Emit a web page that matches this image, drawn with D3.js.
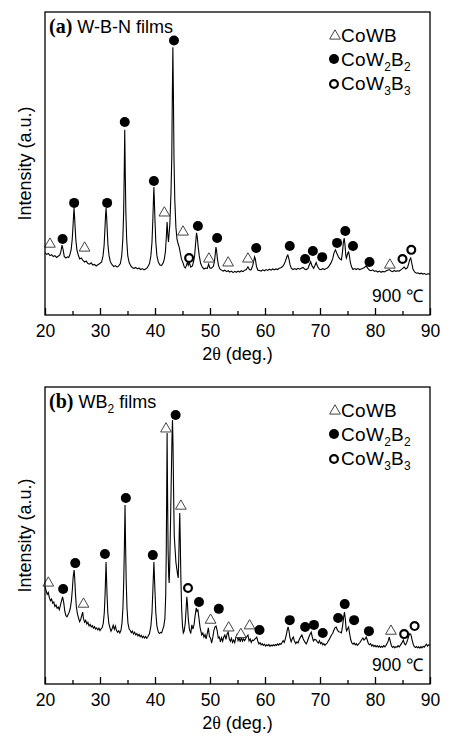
<!DOCTYPE html>
<html>
<head>
<meta charset="utf-8">
<script src="https://cdn.jsdelivr.net/npm/d3@7"></script>
<style>
  body { margin: 0; background: #fff; }
  svg { display: block; }
  text { font-family: "Liberation Sans", Arial, sans-serif; fill: #000; }
</style>
</head>
<body>
<svg id="chart" width="458" height="740"></svg>
<script>
// x axis ticks (2 theta, deg.)
const xTicks = [20, 30, 40, 50, 60, 70, 80, 90]
const xMinorTicks = [25, 35, 45, 55, 65, 75, 85]

// legend phases
const phaseLabels = [
  [["CoWB", ""]],
  [["CoW", ""], ["2", "sub"], ["B", ""], ["2", "sub"]],
  [["CoW", ""], ["3", "sub"], ["B", ""], ["3", "sub"]]
]

// (a) W-B-N films, 900 C : [2theta, intensity a.u.]
const traceA = [
  [20.0,20.5],[20.3,20.0],[20.6,20.3],[20.9,19.6],[21.2,19.9],[21.5,19.3],[21.8,19.6],[22.1,19.0],[22.4,19.4],[22.7,19.8],
  [22.9,21.0],[23.1,23.1],[23.3,21.5],[23.5,19.3],[23.8,18.8],[24.1,19.2],[24.3,19.0],[24.5,19.8],[24.75,21.5],[24.95,25],
  [25.1,29.5],[25.2,33],[25.28,35.3],[25.36,33],[25.46,29.5],[25.6,25],[25.8,21.5],[26.05,19.8],[26.3,18.5],[26.6,18.8],
  [26.9,18.0],[27.2,17.5],[27.5,17.8],[27.8,17.0],[28.1,16.8],[28.4,17.2],[28.7,16.5],[29.0,16.7],[29.3,16.2],[29.6,16.6],
  [29.9,16.9],[30.3,17.5],[30.55,19.5],[30.75,23],[30.9,28.5],[31.0,32.5],[31.1,35.3],[31.2,32.5],[31.3,28.5],[31.45,23],
  [31.65,19.5],[31.9,17.5],[32.2,16.6],[32.5,16.0],[32.8,16.3],[33.1,15.8],[33.4,16.2],[33.7,17.0],[33.95,19.5],[34.15,25],
  [34.3,34],[34.4,46],[34.5,61.1],[34.6,46],[34.7,34],[34.85,25],[35.05,19.5],[35.3,17.3],[35.6,16.2],[35.9,15.6],
  [36.2,15.4],[36.5,15.7],[36.8,15.2],[37.1,15.5],[37.4,15.0],[37.7,15.3],[38.0,14.9],[38.3,15.2],[38.6,15.6],[39.0,17.0],
  [39.25,19.5],[39.45,24],[39.6,31],[39.72,38],[39.8,42.2],[39.88,38],[40.0,31],[40.15,24],[40.35,19.5],[40.6,17.5],
  [40.9,16.5],[41.2,16.4],[41.5,17.2],[41.7,18.5],[41.9,21],[42.05,25.5],[42.2,30.7],[42.35,26],[42.45,24.1],[42.7,30],
  [42.9,40],[43.05,52],[43.15,72],[43.25,88.4],[43.35,72],[43.45,52],[43.6,38],[43.8,29],[44.0,25],[44.2,23.5],
  [44.4,22.4],[44.6,20.5],[44.8,18.5],[45.1,17.2],[45.3,16.0],[45.5,15.5],[45.7,16.2],[45.9,17.5],[46.05,16.4],[46.25,17.3],
  [46.5,15.8],[46.8,16.2],[47.0,17.5],[47.2,19.5],[47.38,23.5],[47.55,27.1],[47.7,25.5],[47.85,22.5],[48.05,19.5],[48.3,17],
  [48.6,15.8],[48.9,15.2],[49.2,15.5],[49.5,15.3],[49.75,16.8],[49.95,15.6],[50.2,15.4],[50.4,15.7],[50.6,16.0],[50.8,17.5],
  [50.95,20],[51.08,22.4],[51.2,21.2],[51.35,18.5],[51.55,16.3],[51.8,15.2],[52.1,14.8],[52.4,14.5],[52.7,14.8],[53.0,14.3],
  [53.3,14.6],[53.6,14.2],[53.9,14.5],[54.2,14.0],[54.5,14.4],[54.8,14.1],[55.1,14.5],[55.4,14.2],[55.7,14.6],[56.0,14.3],
  [56.3,14.8],[56.6,15.0],[56.9,15.9],[57.1,15.2],[57.3,14.8],[57.5,15.0],[57.75,16.2],[57.95,17.8],[58.1,19.2],[58.25,18.4],
  [58.45,16.0],[58.7,14.8],[59.0,14.7],[59.3,14.5],[59.6,14.9],[59.9,14.6],[60.2,15.0],[60.5,14.7],[60.8,15.1],[61.1,14.8],
  [61.4,15.2],[61.7,14.9],[62.0,15.2],[62.3,15.0],[62.6,15.4],[62.9,15.6],[63.2,16.0],[63.5,16.8],[63.75,18.0],[64.0,19.4],
  [64.15,19.8],[64.35,18.5],[64.55,16.6],[64.8,15.4],[65.1,15.0],[65.4,15.3],[65.7,15.0],[66.0,15.4],[66.3,15.1],[66.6,15.4],
  [66.9,15.7],[67.2,15.2],[67.5,15.0],[67.8,15.3],[68.05,16.5],[68.3,17.6],[68.55,16.2],[68.85,15.4],[69.1,16.4],[69.3,17.3],
  [69.55,16.0],[69.9,15.1],[70.2,15.0],[70.5,15.3],[70.8,15.0],[71.1,15.3],[71.4,15.6],[71.7,16.3],[72.0,17.2],[72.3,18.5],
  [72.55,20.5],[72.8,21.5],[73.1,20.2],[73.4,19.0],[73.7,18.4],[73.9,18.2],[74.1,21],[74.25,24],[74.4,25.4],[74.55,23],
  [74.7,19.5],[74.8,18.8],[74.95,19.8],[75.1,20.6],[75.2,20.8],[75.35,19.5],[75.5,17.5],[75.75,15.8],[76.0,15.0],[76.3,15.3],
  [76.6,15.0],[76.9,15.3],[77.2,15.0],[77.5,15.2],[77.8,15.4],[78.1,15.7],[78.4,16.2],[78.7,15.4],[79.0,14.8],[79.3,14.6],
  [79.6,14.9],[79.9,14.4],[80.2,14.6],[80.5,14.2],[80.8,14.5],[81.1,14.1],[81.4,14.4],[81.7,14.2],[82.0,14.5],[82.3,14.8],
  [82.6,15.0],[82.9,14.5],[83.2,14.3],[83.5,14.7],[83.8,14.4],[84.1,14.6],[84.4,14.5],[84.7,14.9],[85.0,15.3],[85.3,15.8],
  [85.6,15.2],[85.9,15.6],[86.1,16.8],[86.3,18.2],[86.5,18.8],[86.7,17.0],[86.9,15.2],[87.2,14.2],[87.5,13.8],[87.8,13.9],
  [88.1,13.6],[88.4,13.8],[88.7,13.5],[89.0,13.7],[89.3,13.4],[89.6,13.6],[90.0,13.5]
]
const cowbA = [[20.9,23.4],[27.2,22.1],[41.7,33.7],[45.1,27.4],[49.8,18.5],[53.3,17.2],[56.9,18.5],[82.7,16.5]]
const cow2b2A = [[23.2,25.1],[25.3,37.0],[31.3,37.0],[34.5,63.7],[39.8,44.2],[43.45,90.6],[47.8,29.4],[51.3,25.4],
  [58.4,22.1],[64.5,22.8],[67.3,18.5],[68.7,21.1],[70.4,19.1],[73.1,23.8],[74.6,27.7],[76.0,22.8],[79.0,17.5]]
const cow3b3A = [[46.2,18.8],[85.0,18.5],[86.6,21.5]]

// (b) WB2 films, 900 C : [2theta, intensity a.u.]
const traceB = [
  [20.0,32.7],[20.2,31.5],[20.4,30.2],[20.6,30.8],[20.8,29.0],[21.0,28.0],[21.2,28.6],[21.4,27.2],[21.6,27.6],[21.8,26.1],
  [22.0,26.6],[22.2,25.5],[22.4,25.9],[22.6,25.0],[22.8,26.5],[23.0,28.0],[23.2,29.3],[23.4,27.5],[23.6,24.5],[23.8,23.0],
  [24.0,22.6],[24.2,23.4],[24.4,24.2],[24.6,25.5],[24.8,28],[24.98,32],[25.12,36],[25.3,38.4],[25.42,35],[25.55,30],
  [25.7,26],[25.9,23.5],[26.1,22.2],[26.3,21.0],[26.5,21.8],[26.7,23.2],[26.85,24.2],[27.0,22.0],[27.2,20.8],[27.4,21.4],
  [27.6,20.2],[27.8,20.8],[28.0,19.6],[28.2,20.1],[28.4,19.2],[28.6,19.7],[28.8,18.8],[29.0,19.3],[29.2,18.5],[29.4,18.9],
  [29.6,18.2],[29.8,18.8],[30.0,18.0],[30.2,18.6],[30.4,19.0],[30.6,20.5],[30.78,24],[30.92,30],[31.02,36],[31.1,41.1],
  [31.18,36],[31.28,30],[31.42,24],[31.6,20.5],[31.8,19.0],[32.0,17.8],[32.2,18.6],[32.4,19.8],[32.6,18.4],[32.8,19.5],
  [33.0,18.0],[33.2,17.4],[33.4,17.9],[33.6,17.2],[33.8,18.0],[34.0,20.5],[34.18,26],[34.32,35],[34.44,47],[34.55,60.3],
  [34.65,47],[34.76,35],[34.9,26],[35.08,20.5],[35.3,18.5],[35.5,18.0],[35.7,17.3],[35.9,17.8],[36.1,16.8],[36.3,17.4],
  [36.5,16.5],[36.7,17.0],[36.9,16.2],[37.1,16.7],[37.3,15.9],[37.5,16.4],[37.7,15.6],[37.9,16.1],[38.1,15.5],[38.3,16.0],
  [38.5,15.4],[38.7,15.9],[39.0,17.0],[39.25,19.5],[39.45,24],[39.6,31],[39.72,37],[39.8,41.1],[39.88,37],[40.0,31],
  [40.15,24],[40.35,19.5],[40.6,17.5],[40.8,17.0],[41.0,17.4],[41.2,17.2],[41.4,18.3],[41.6,19.5],[41.8,22],[41.95,30],
  [42.05,45],[42.13,65],[42.2,84.5],[42.28,65],[42.38,45],[42.5,36],[42.58,34],[42.68,40],[42.8,52],[42.95,68],
  [43.08,82],[43.18,88.9],[43.28,80],[43.4,62],[43.5,50],[43.6,46.8],[43.7,44],[43.8,41],[43.95,39],[44.1,37],
  [44.22,35.7],[44.32,42],[44.42,52],[44.5,57.6],[44.58,50],[44.7,36],[44.85,25],[45.0,19.5],[45.15,17.2],[45.3,17.8],
  [45.5,20.5],[45.65,25],[45.78,29.4],[45.9,27],[46.05,22],[46.25,18.5],[46.5,17.0],[46.7,19.9],[46.9,18.5],[47.1,20],
  [47.3,23],[47.5,25.6],[47.65,24.5],[47.8,24.9],[48.0,22],[48.2,19],[48.5,16.5],[48.7,17.2],[48.9,15.8],[49.1,16.6],
  [49.3,15.2],[49.5,17.0],[49.7,18.9],[49.9,16.0],[50.1,15.5],[50.3,13.8],[50.5,15.6],[50.7,18],[50.9,19.2],[51.1,19.5],
  [51.3,18],[51.5,15.5],[51.7,15.8],[51.9,14.2],[52.1,15.6],[52.3,14.4],[52.5,15.8],[52.7,16.5],[52.9,15.0],[53.1,16.8],
  [53.3,17.5],[53.5,15.2],[53.7,14.4],[53.9,15.4],[54.1,14.0],[54.3,14.8],[54.5,13.9],[54.7,15.6],[54.9,16.6],[55.1,14.6],
  [55.3,15.5],[55.5,14.2],[55.7,15.8],[55.9,14.4],[56.1,15.2],[56.3,14.6],[56.5,15.3],[56.7,16.0],[56.9,16.5],[57.1,14.5],
  [57.3,15.2],[57.5,14.0],[57.7,14.8],[57.9,14.6],[58.1,15.0],[58.3,15.4],[58.5,15.8],[58.7,14.4],[58.9,13.5],[59.1,13.9],
  [59.3,13.2],[59.5,13.6],[59.7,13.0],[59.9,13.4],[60.1,12.8],[60.3,13.2],[60.5,12.9],[60.7,13.3],[60.9,12.7],[61.1,13.1],
  [61.3,12.8],[61.5,13.2],[61.7,12.9],[61.9,13.3],[62.1,13.0],[62.3,13.5],[62.5,13.1],[62.7,13.6],[62.9,13.3],[63.1,14.0],
  [63.3,14.6],[63.5,14.0],[63.7,15.2],[63.9,16.8],[64.05,18.2],[64.2,19.2],[64.35,18.0],[64.55,15.5],[64.75,14.2],[64.95,15.2],
  [65.15,15.8],[65.35,14.5],[65.6,13.6],[65.8,14.2],[66.0,13.8],[66.2,14.8],[66.45,15.8],[66.7,16.5],[66.9,15.4],[67.1,14.6],
  [67.3,14.0],[67.5,13.5],[67.7,14.3],[67.9,15.5],[68.15,16.6],[68.4,17.5],[68.6,15.8],[68.8,14.5],[69.0,15.0],[69.3,14.8],
  [69.5,14.2],[69.7,13.8],[69.9,14.6],[70.1,13.6],[70.3,14.0],[70.5,13.2],[70.7,13.6],[70.9,13.0],[71.1,13.4],[71.3,13.8],
  [71.5,14.5],[71.7,15.0],[71.9,15.8],[72.1,16.5],[72.3,17.0],[72.5,18.0],[72.75,19.0],[72.95,19.2],[73.15,18.2],[73.4,17.6],
  [73.65,17.5],[73.9,17.2],[74.1,19.5],[74.3,22.5],[74.45,24.2],[74.6,22],[74.75,18.5],[74.85,17.9],[75.0,18.6],[75.2,19.2],
  [75.4,16.8],[75.6,14.8],[75.8,13.8],[76.0,13.4],[76.2,13.8],[76.4,13.2],[76.6,13.6],[76.8,13.0],[77.0,13.4],[77.2,13.8],
  [77.4,14.4],[77.6,15.0],[77.8,15.5],[78.0,14.8],[78.2,15.2],[78.4,15.8],[78.6,14.8],[78.8,13.6],[79.0,13.2],[79.2,13.6],
  [79.4,12.8],[79.6,13.2],[79.8,12.6],[80.0,13.0],[80.2,12.5],[80.4,12.9],[80.6,12.4],[80.8,12.8],[81.0,12.3],[81.2,12.7],
  [81.4,12.4],[81.6,12.9],[81.8,12.5],[82.0,13.0],[82.2,13.6],[82.4,14.5],[82.6,15.8],[82.8,14.2],[83.0,12.8],[83.2,12.3],
  [83.4,12.7],[83.6,12.2],[83.8,12.6],[84.0,12.4],[84.2,12.9],[84.4,12.5],[84.6,13.0],[84.8,13.6],[85.0,14.2],[85.15,14.8],
  [85.35,13.6],[85.55,13.2],[85.75,13.9],[85.95,15.0],[86.15,16.2],[86.35,17.0],[86.55,16.5],[86.75,14.8],[86.95,13.4],[87.15,12.6],
  [87.35,12.3],[87.55,12.6],[87.75,12.2],[87.95,12.5],[88.15,12.1],[88.35,12.6],[88.55,12.2],[88.75,12.7],[88.95,12.4],[89.15,12.9],
  [89.35,13.4],[89.55,12.8],[89.75,13.2],[90.0,13.1]
]
const cowbB = [[20.6,34.0],[27.0,26.9],[42.0,85.9],[44.7,59.9],[50.1,21.5],[53.4,18.9],[55.6,16.7],[57.2,19.6],[82.9,17.8]]
const cow2b2B = [[23.3,32.0],[25.5,40.7],[30.9,43.8],[34.7,62.6],[39.6,43.4],[43.75,90.6],[48.0,27.6],[51.6,25.3],
  [59.0,18.2],[64.5,21.5],[67.3,19.2],[68.9,19.9],[70.5,17.2],[73.3,22.2],[74.5,26.9],[76.2,21.5],[78.9,17.8]]
const cow3b3B = [[46.0,32.3],[85.3,16.8],[87.2,19.5]]

const panels = [
  {label: "(a)", title: [["W-B-N films", ""]], trace: traceA, cowb: cowbA, cow2b2: cow2b2A, cow3b3: cow3b3A, top: 12, bottom: 315},
  {label: "(b)", title: [["WB", ""], ["2", "sub"], [" films", ""]], trace: traceB, cowb: cowbB, cow2b2: cow2b2B, cow3b3: cow3b3B, top: 387, bottom: 684}
]

const svg = d3.select("#chart")
const left = 45, right = 430
const x = d3.scaleLinear().domain([20, 90]).range([left, right])

const triangle = d3.symbol().type(d3.symbolTriangle).size(50)

// writes plain/subscript pieces into a text element
function richText(sel, parts, subSize){
  parts.forEach(([str, kind], i) => {
    const t = sel.append("tspan").text(str)
    if(kind == "sub"){
      t.attr("font-size", subSize).attr("dy", 5)
    }else if(i > 0 && parts[i-1][1] == "sub"){
      t.attr("dy", -5)
    }
  })
}

function drawTriangles(g, data, xf, yf){
  g.selectAll("path.cowb")
    .data(data)
    .join("path")
    .attr("class", "cowb")
    .attr("d", triangle)
    .attr("transform", d => `translate(${xf(d)},${yf(d)})`)
    .attr("fill", "#fff")
    .attr("stroke", "#444")
    .attr("stroke-width", 1)
}

function drawDots(g, data, xf, yf){
  g.selectAll("circle.cow2b2")
    .data(data)
    .join("circle")
    .attr("class", "cow2b2")
    .attr("cx", xf).attr("cy", yf)
    .attr("r", 5)
    .attr("fill", "#000")
}

function drawRings(g, data, xf, yf){
  g.selectAll("circle.cow3b3")
    .data(data)
    .join("circle")
    .attr("class", "cow3b3")
    .attr("cx", xf).attr("cy", yf)
    .attr("r", 3.9)
    .attr("fill", "#fff")
    .attr("stroke", "#000")
    .attr("stroke-width", 2.2)
}

function drawPanel(p){
  const g = svg.append("g")
  const y = d3.scaleLinear().domain([0, 100]).range([p.bottom, p.top])

  // XRD trace
  g.append("path")
    .datum(p.trace)
    .attr("d", d3.line().x(d => x(d[0])).y(d => y(d[1])))
    .attr("fill", "none")
    .attr("stroke", "#000")
    .attr("stroke-width", 1.1)

  // phase markers
  const mx = d => x(d[0]), my = d => y(d[1])
  drawTriangles(g, p.cowb, mx, my)
  drawDots(g, p.cow2b2, mx, my)
  drawRings(g, p.cow3b3, mx, my)

  // bottom axis, ticks pointing inward
  const axis = g.append("g")
    .attr("transform", `translate(0,${p.bottom})`)
    .call(d3.axisBottom(x).tickValues(xTicks).tickSize(-7).tickPadding(10))
  axis.select(".domain").remove()
  axis.selectAll("line").attr("stroke", "#000").attr("stroke-width", 1.3)
  axis.selectAll("text").attr("font-size", 17.5).attr("font-family", "Liberation Sans, Arial, sans-serif").attr("fill", "#000")

  const minor = g.append("g")
    .attr("transform", `translate(0,${p.bottom})`)
    .call(d3.axisBottom(x).tickValues(xMinorTicks).tickSize(-4).tickFormat(""))
  minor.select(".domain").remove()
  minor.selectAll("line").attr("stroke", "#000").attr("stroke-width", 1.3)

  // frame
  g.append("rect")
    .attr("x", left).attr("y", p.top)
    .attr("width", right - left).attr("height", p.bottom - p.top)
    .attr("fill", "none")
    .attr("stroke", "#000")
    .attr("stroke-width", 1.3)

  // panel title
  const title = g.append("text")
    .attr("x", left + 4).attr("y", p.top + 21)
    .attr("font-size", 18)
  title.append("tspan")
    .text(p.label)
    .attr("font-family", "Liberation Serif, Times New Roman, serif")
    .attr("font-weight", "bold")
    .attr("font-size", 20)
  title.append("tspan").text(" ")
  richText(title, p.title, 12)

  // legend
  const legX = 341
  const rows = [30, 54, 78]
  const legend = g.append("g")
  drawTriangles(legend, [rows[0]], () => 335, d => p.top + d - 6)
  drawDots(legend, [rows[1]], () => 334, d => p.top + d - 7)
  drawRings(legend, [rows[2]], () => 334, d => p.top + d - 6)
  phaseLabels.forEach((parts, i) => {
    const t = legend.append("text")
      .attr("x", legX).attr("y", p.top + rows[i])
      .attr("font-size", 19)
      .attr("letter-spacing", 0.3)
    richText(t, parts, 12)
  })

  // temperature
  g.append("text")
    .attr("x", right - 7).attr("y", p.bottom - 13)
    .attr("text-anchor", "end")
    .attr("font-size", 17.5)
    .text("900 \u2103")

  // axis titles
  g.append("text")
    .attr("transform", `translate(31,${(p.top + p.bottom) / 2}) rotate(-90)`)
    .attr("text-anchor", "middle")
    .attr("font-size", 18)
    .text("Intensity (a.u.)")

  const xt = g.append("text")
    .attr("x", (left + right) / 2).attr("y", p.bottom + 45)
    .attr("text-anchor", "middle")
    .attr("font-size", 18)
  xt.append("tspan").text("2")
  xt.append("tspan").text("\u03b8").attr("font-family", "Liberation Serif, serif")
  xt.append("tspan").text(" (deg.)")
}

panels.forEach(drawPanel)
</script>
</body>
</html>
